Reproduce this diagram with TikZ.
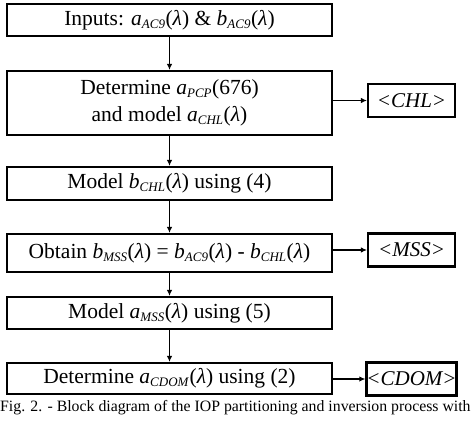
\documentclass[tikz,border=0pt]{standalone}
\usepackage{fontspec}
\setmainfont{Liberation Serif}
\usetikzlibrary{arrows.meta}
\tikzset{block/.style={draw, line width=2.2pt, minimum width=325pt, inner sep=1pt, font=\fontsize{21.5}{27}\selectfont, align=center}}
\tikzset{outbox/.style={draw, line width=2.2pt, minimum width=87pt, minimum height=33pt, inner sep=0pt, font=\fontsize{21}{22}\selectfont\itshape}}
\tikzset{flow/.style={-{Latex[length=6pt,width=5.5pt]}, line width=1.1pt}}
\newcommand{\var}[2]{\textit{#1}\textsubscript{\textit{\fontsize{13}{13}\selectfont #2}}(\textit{λ})}
\begin{document}
\begin{tikzpicture}[x=1pt,y=-1pt]
    \useasboundingbox (0,0) rectangle (474,433);
    \node[block, minimum height=32pt] at (169.5,20) (in){Inputs: \var{a}{AC9} \& \var{b}{AC9}};
    \node[block, minimum height=64pt] at (169.5,103) (chl){Determine \textit{a}\textsubscript{\textit{\fontsize{13}{13}\selectfont PCP}}(676)\\and model \var{a}{CHL}};
    \node[block, minimum height=33pt] at (169.5,183.5) (bchl){Model \var{b}{CHL} using (4)};
    \node[block, minimum height=38pt] at (169.5,253) (bmss){Obtain \var{b}{MSS} = \var{b}{AC9} - \var{b}{CHL}};
    \node[block, minimum height=32pt] at (169.5,313) (amss){Model \var{a}{MSS} using (5)};
    \node[block, minimum height=31pt] at (169.5,378.5) (cdom){Determine \var{a}{CDOM} using (2)};

    \node[outbox] at (411.5,100.5) (o1){<CHL>};
    \node[outbox] at (411.5,250) (o2){<MSS>};
    \node[outbox] at (411.5,379) (o3){<CDOM>};

    \draw[flow] (in) -- (chl);
    \draw[flow] (chl) -- (bchl);
    \draw[flow] (bchl) -- (bmss);
    \draw[flow] (bmss) -- (amss);
    \draw[flow] (amss) -- (cdom);

    \draw[flow] (chl.east |- o1) -- (o1.west);
    \draw[flow] (bmss.east |- o2) -- (o2.west);
    \draw[flow] (cdom.east |- o3) -- (o3.west);

    \node[anchor=west, inner sep=0pt, font=\fontsize{15.8}{17}\selectfont] at (0,408) (cap){Fig. 2. - Block diagram of the IOP partitioning and inversion process with};
\end{tikzpicture}
\end{document}
